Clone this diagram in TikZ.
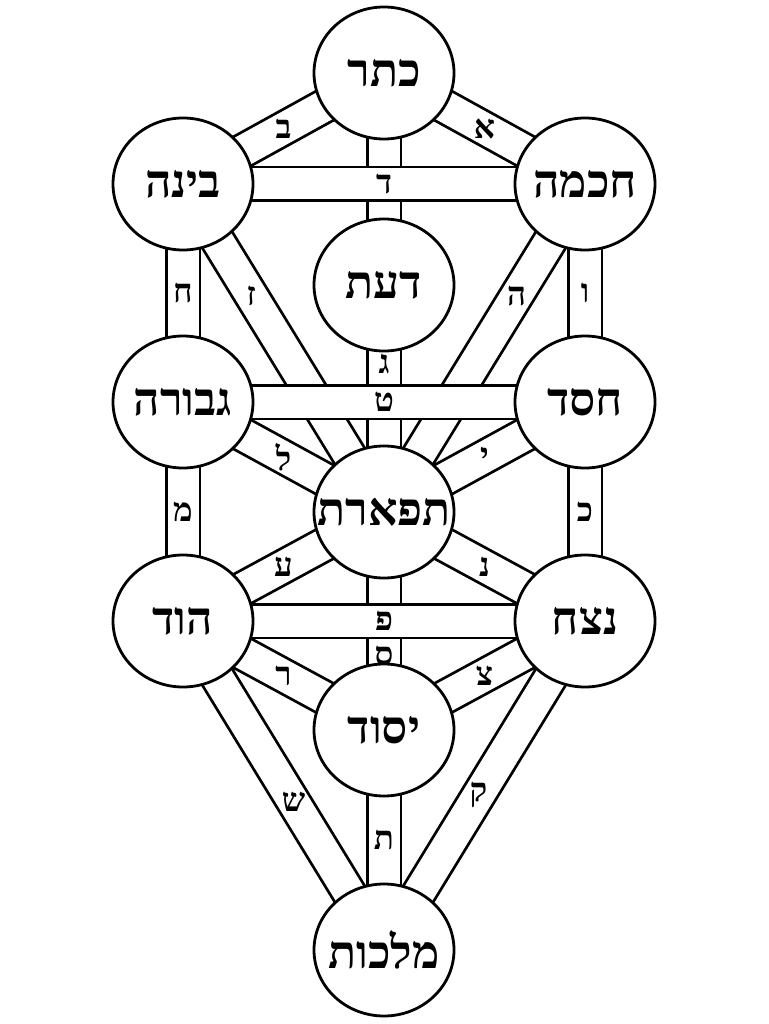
\documentclass[tikz,border=0pt]{standalone}
\usepackage{fontspec}
\usetikzlibrary{shapes.geometric,backgrounds}
\newfontfamily\hebfont[Script=Hebrew]{Liberation Serif}
\TeXXeTstate=1
\newcommand{\heb}[1]{\hebfont\bfseries\beginR #1\endR}

\begin{document}
\begin{tikzpicture}[x=1pt,y=-1pt,
  sefira/.style={ellipse,draw,line width=2.8pt,fill=white,minimum width=140pt,minimum height=132pt,inner sep=0pt},
  shem/.style={font=\fontsize{46}{52}\selectfont,inner sep=0pt},
  netiv/.style={draw,line width=2.8pt,double=white,double distance=31pt},
  ot/.style={font=\fontsize{33}{38}\selectfont,inner sep=0pt}]
\useasboundingbox (0,0) rectangle (768,1024);
\node[sefira,label={[shem]center:\heb{כתר}}] (keter) at (384,73) {};
\node[sefira,label={[shem]center:\heb{חכמה}}] (hokh) at (585,184) {};
\node[sefira,label={[shem]center:\heb{בינה}}] (bina) at (183,184) {};
\node[sefira,label={[shem]center:\heb{דעת}}] (daat) at (384,285) {};
\node[sefira,label={[shem]center:\heb{חסד}}] (hesed) at (585,402) {};
\node[sefira,label={[shem]center:\heb{גבורה}}] (gevu) at (183,402) {};
\node[sefira,label={[shem]center:\heb{תפארת}}] (tif) at (384,512) {};
\node[sefira,label={[shem]center:\heb{נצח}}] (netz) at (585,621) {};
\node[sefira,label={[shem]center:\heb{הוד}}] (hod) at (183,621) {};
\node[sefira,label={[shem]center:\heb{יסוד}}] (yesod) at (384,730) {};
\node[sefira,label={[shem]center:\heb{מלכות}}] (malk) at (384,950) {};
\begin{scope}[on background layer]
% les chemins obliques et verticaux
\draw[netiv] (keter.center) -- (hokh.center) node[ot,midway]{\heb{א}};
\draw[netiv] (keter.center) -- (bina.center) node[ot,midway]{\heb{ב}};
\draw[netiv] (keter.center) -- (tif.center) node[ot,pos=.663]{\heb{ג}};
\draw[netiv] (hokh.center) -- (tif.center) node[ot,pos=.34]{\heb{ה}};
\draw[netiv] (hokh.center) -- (hesed.center) node[ot,midway]{\heb{ו}};
\draw[netiv] (bina.center) -- (tif.center) node[ot,pos=.34]{\heb{ז}};
\draw[netiv] (bina.center) -- (gevu.center) node[ot,midway]{\heb{ח}};
\draw[netiv] (hesed.center) -- (tif.center) node[ot,midway]{\heb{י}};
\draw[netiv] (hesed.center) -- (netz.center) node[ot,midway]{\heb{כ}};
\draw[netiv] (gevu.center) -- (tif.center) node[ot,midway]{\heb{ל}};
\draw[netiv] (gevu.center) -- (hod.center) node[ot,midway]{\heb{מ}};
\draw[netiv] (tif.center) -- (netz.center) node[ot,midway]{\heb{נ}};
\draw[netiv] (tif.center) -- (yesod.center) node[ot,pos=.66]{\heb{ס}};
\draw[netiv] (tif.center) -- (hod.center) node[ot,midway]{\heb{ע}};
\draw[netiv] (netz.center) -- (yesod.center) node[ot,midway]{\heb{צ}};
\draw[netiv] (netz.center) -- (malk.center) node[ot,pos=.53]{\heb{ק}};
\draw[netiv] (hod.center) -- (yesod.center) node[ot,midway]{\heb{ר}};
\draw[netiv] (hod.center) -- (malk.center) node[ot,pos=.55]{\heb{ש}};
\draw[netiv] (yesod.center) -- (malk.center) node[ot,midway]{\heb{ת}};
% les horizontaux par-dessus
\draw[netiv] (bina.center) -- (hokh.center) node[ot,midway]{\heb{ד}};
\draw[netiv] (gevu.center) -- (hesed.center) node[ot,midway]{\heb{ט}};
\draw[netiv] (hod.center) -- (netz.center) node[ot,midway]{\heb{פ}};
\end{scope}
\end{tikzpicture}
\end{document}
